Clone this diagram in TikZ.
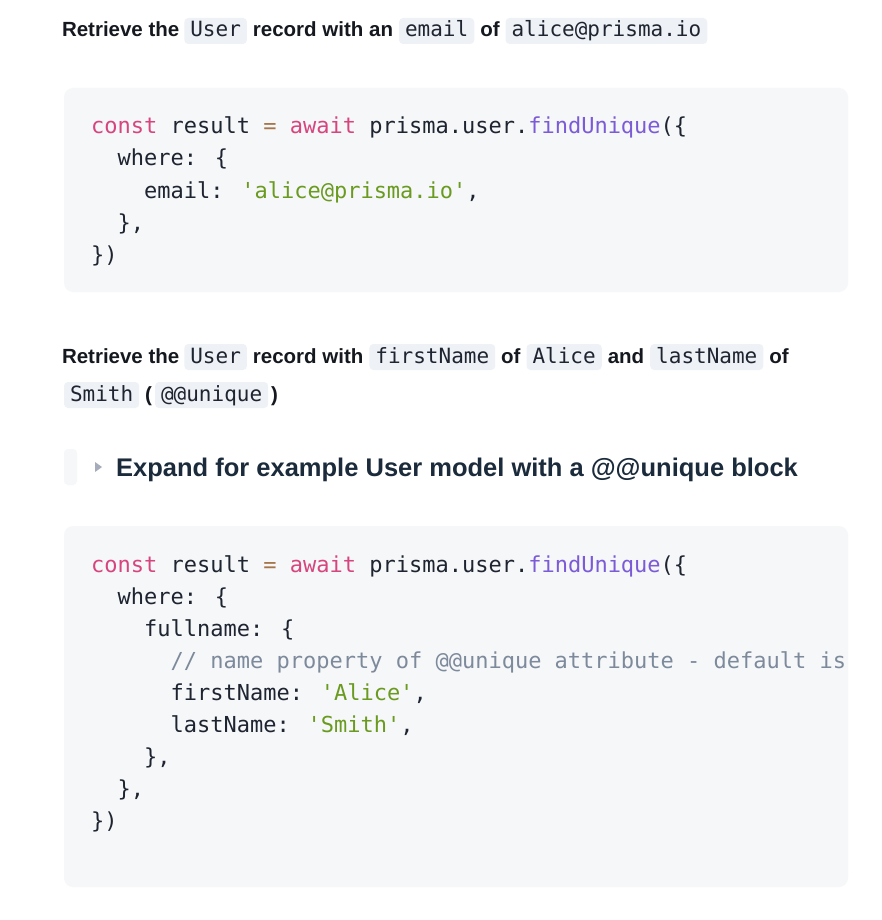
\documentclass[tikz,border=0pt]{standalone}
\usepackage{fontspec}
\newfontfamily\hs{Liberation Sans}
\newfontfamily\mono{DejaVu Sans Mono}
\definecolor{tx}{HTML}{15191F}
\definecolor{icbg}{HTML}{EEF1F5}
\definecolor{cbg}{HTML}{F6F7F9}
\definecolor{kw}{HTML}{D6457E}
\definecolor{eq}{HTML}{A6764A}
\definecolor{fn}{HTML}{7B5BD6}
\definecolor{st}{HTML}{6A9A1F}
\definecolor{cm}{HTML}{7D8A9B}
\definecolor{ct}{HTML}{1E2430}
\definecolor{hd}{HTML}{1B2B3B}
\begin{document}
\begin{tikzpicture}[x=1pt,y=-1pt,
 txt/.style={anchor=base west,inner sep=0pt,outer sep=0pt,font=\hs\bfseries\fontsize{20.5}{24}\selectfont,text=tx},
 ic/.style={anchor=base west,fill=icbg,rounded corners=4pt,inner xsep=6pt,inner ysep=0pt,outer sep=0pt,text height=19pt,text depth=7pt,font=\mono\fontsize{21}{24}\selectfont,text=ct},
 cl/.style={anchor=base west,inner sep=0pt,font=\mono\fontsize{22}{26}\selectfont,text=ct},
 blk/.style={fill=cbg,rounded corners=9pt}]
\useasboundingbox (0,0) rectangle (882,920);
\fill[white] (0,0) rectangle (882,920);
% line 1
\node[txt] (a1) at (62,37) {Retrieve the};
\node[ic] (a2) at ([xshift=5pt]a1.base east) {User};
\node[txt] (a3) at ([xshift=6pt]a2.base east) {record with an};
\node[ic] (a4) at ([xshift=6pt]a3.base east) {email};
\node[txt] (a5) at ([xshift=6pt]a4.base east) {of};
\node[ic] (a6) at ([xshift=6pt]a5.base east) {alice@prisma.io};
% block 1
\fill[blk] (64,88) rectangle (848,292);
\node[cl] (b1) at (91,134) {\textcolor{kw}{const} result \textcolor{eq}{=} \textcolor{kw}{await} prisma.user.\textcolor{fn}{findUnique}(\{};
\node[cl] (b2) at (91,166) {\ \ where: \{};
\node[cl] (b3) at (91,198) {\ \ \ \ email: \textcolor{st}{'alice@prisma.io'},};
\node[cl] (b4) at (91,230) {\ \ \},};
\node[cl] (b5) at (91,262) {\})};
% line 2
\node[txt] (c1) at (62,363) {Retrieve the};
\node[ic] (c2) at ([xshift=5pt]c1.base east) {User};
\node[txt] (c3) at ([xshift=6pt]c2.base east) {record with};
\node[ic] (c4) at ([xshift=6pt]c3.base east) {firstName};
\node[txt] (c5) at ([xshift=6pt]c4.base east) {of};
\node[ic] (c6) at ([xshift=6pt]c5.base east) {Alice};
\node[txt] (c7) at ([xshift=6pt]c6.base east) {and};
\node[ic] (c8) at ([xshift=6pt]c7.base east) {lastName};
\node[txt] (c9) at ([xshift=6pt]c8.base east) {of};
\node[ic] (d1) at (64,401) {Smith};
\node[txt] (d2) at ([xshift=6pt]d1.base east) {(};
\node[ic] (d3) at ([xshift=3pt]d2.base east) {@@unique};
\node[txt] (d4) at ([xshift=3pt]d3.base east) {)};
% expand
\fill[icbg!60,rounded corners=4pt] (64,449) rectangle (77,485);
\fill[cm!70] (95,462) -- (102,467) -- (95,472) -- cycle;
\node[anchor=base west,inner sep=0pt,font=\hs\bfseries\fontsize{25.5}{30}\selectfont,text=hd] (e1) at (116,476) {Expand for example User model with a @@unique block};
% block 2
\fill[blk] (64,526) rectangle (848,887);
\begin{scope}
\clip (64,526) rectangle (848,887);
\node[cl] (f1) at (91,572) {\textcolor{kw}{const} result \textcolor{eq}{=} \textcolor{kw}{await} prisma.user.\textcolor{fn}{findUnique}(\{};
\node[cl] (f2) at (91,604) {\ \ where: \{};
\node[cl] (f3) at (91,636) {\ \ \ \ fullname: \{};
\node[cl] (f4) at (91,668) {\ \ \ \ \ \ \textcolor{cm}{// name property of @@unique attribute - default is}};
\node[cl] (f5) at (91,700) {\ \ \ \ \ \ firstName: \textcolor{st}{'Alice'},};
\node[cl] (f6) at (91,732) {\ \ \ \ \ \ lastName: \textcolor{st}{'Smith'},};
\node[cl] (f7) at (91,764) {\ \ \ \ \},};
\node[cl] (f8) at (91,796) {\ \ \},};
\node[cl] (f9) at (91,828) {\})};
\end{scope}
\end{tikzpicture}
\end{document}
